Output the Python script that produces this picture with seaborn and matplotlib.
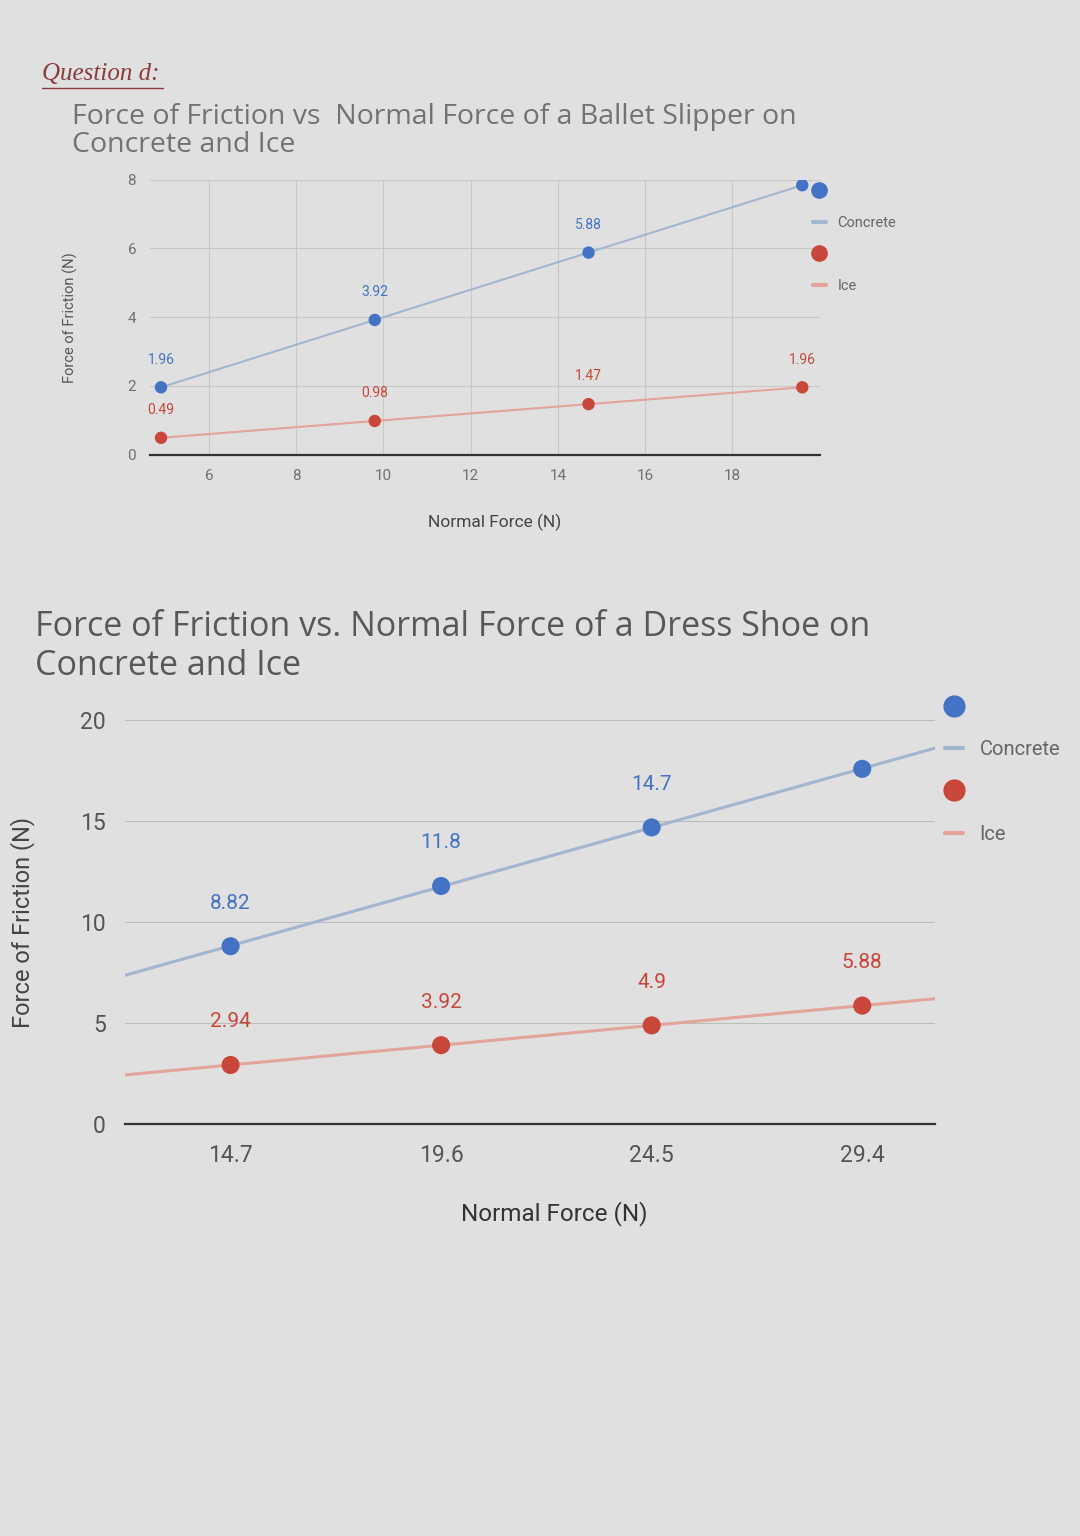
import numpy as np
import pandas as pd
import seaborn as sns
import matplotlib.pyplot as plt
from matplotlib.lines import Line2D

# ballet slipper data
ballet_normal = [4.9, 9.8, 14.7, 19.6]
ballet_concrete = [1.96, 3.92, 5.88, 7.84]
ballet_ice = [0.49, 0.98, 1.47, 1.96]
ballet_concrete_labels = ["1.96", "3.92", "5.88", ""]
ballet_ice_labels = ["0.49", "0.98", "1.47", "1.96"]

# dress shoe data
dress_normal = [14.7, 19.6, 24.5, 29.4]
dress_concrete = [8.82, 11.8, 14.7, 17.6]
dress_ice = [2.94, 3.92, 4.9, 5.88]
dress_concrete_labels = ["8.82", "11.8", "14.7", ""]
dress_ice_labels = ["2.94", "3.92", "4.9", "5.88"]
dress_xticks = [14.7, 19.6, 24.5, 29.4]

BLUE = "#4473c5"
RED = "#c8473a"
BLUE_LINE = "#a3b5cf"
RED_LINE = "#e2a49b"
BG = "#e0e0e0"

sns.set_theme(style="white")
plt.rcParams['font.family'] = ['Roboto', 'DejaVu Sans']

fig = plt.figure(figsize=(10.8, 15.36), dpi=100, facecolor=BG)

fig.text(0.039, 0.952, "Question d:", fontsize=18, style="italic", family="Liberation Serif",
         color="#8a3b3b", va="center")
fig.add_artist(Line2D([0.039, 0.151], [0.9425, 0.9425], color="#8a3b3b", lw=1))

fig.text(0.067, 0.933, "Force of Friction vs  Normal Force of a Ballet Slipper on\nConcrete and Ice",
         fontsize=20.5, family="Open Sans", color="#727272", va="top", linespacing=1.0)
fig.text(0.032, 0.603, "Force of Friction vs. Normal Force of a Dress Shoe on\nConcrete and Ice",
         fontsize=24.5, family="Open Sans", color="#585858", va="top", linespacing=1.2)


def draw(ax, normal, concrete, ice, c_labels, i_labels, dot_size, label_fs, label_off, truncate, lw):
    df = pd.DataFrame({
        "Normal": normal * 2,
        "Friction": concrete + ice,
        "Surface": ["Concrete"] * len(normal) + ["Ice"] * len(normal),
    })
    sns.regplot(data=df[df.Surface == "Concrete"], x="Normal", y="Friction", ax=ax, scatter=False,
                ci=None, truncate=truncate, line_kws={"color": BLUE_LINE, "lw": lw})
    sns.regplot(data=df[df.Surface == "Ice"], x="Normal", y="Friction", ax=ax, scatter=False,
                ci=None, truncate=truncate, line_kws={"color": RED_LINE, "lw": lw})
    sns.scatterplot(data=df, x="Normal", y="Friction", hue="Surface", palette=[BLUE, RED],
                    s=dot_size, edgecolor="none", legend=False, ax=ax, zorder=5)
    for x, y, t in zip(normal, concrete, c_labels):
        ax.annotate(t, (x, y), xytext=(0, label_off), textcoords="offset points",
                    ha="center", va="center", fontsize=label_fs, color=BLUE)
    for x, y, t in zip(normal, ice, i_labels):
        ax.annotate(t, (x, y), xytext=(0, label_off), textcoords="offset points",
                    ha="center", va="center", fontsize=label_fs, color=RED)
    ax.set_facecolor(BG)
    for s in ["top", "right", "left"]:
        ax.spines[s].set_visible(False)
    ax.spines["bottom"].set_color("#333333")
    ax.spines["bottom"].set_linewidth(1.6)


# top chart: ballet slipper
ax1 = fig.add_axes([0.139, 0.704, 0.62, 0.179])
ax1.set_xlim(4.65, 20.0)
ax1.set_ylim(0, 8)
draw(ax1, ballet_normal, ballet_concrete, ballet_ice, ballet_concrete_labels, ballet_ice_labels,
     80, 10, 20, True, 1.5)
ax1.set_xlim(4.65, 20.0)
ax1.set_ylim(0, 8)
ax1.set_xticks([6, 8, 10, 12, 14, 16, 18])
ax1.set_yticks([0, 2, 4, 6, 8])
ax1.grid(True, color="#c8c8c8", lw=0.8)
ax1.tick_params(axis="both", length=0, labelsize=11, labelcolor="#707070", pad=10)
ax1.set_xlabel("Normal Force (N)", fontsize=12.5, color="#444444")
ax1.set_ylabel("Force of Friction (N)", fontsize=10.5, color="#555555")
ax1.xaxis.set_label_coords(0.515, -0.215)
ax1.yaxis.set_label_coords(-0.108, 0.5)

# bottom chart: dress shoe
ax2 = fig.add_axes([0.116, 0.268, 0.75, 0.263])
ax2.set_xlim(12.25, 31.1)
ax2.set_ylim(0, 20)
draw(ax2, dress_normal, dress_concrete, dress_ice, dress_concrete_labels, dress_ice_labels,
     170, 15, 31, False, 2.2)
ax2.set_xlim(12.25, 31.1)
ax2.set_ylim(0, 20)
ax2.set_xticks(dress_xticks)
ax2.set_xticklabels([str(v) for v in dress_xticks])
ax2.set_yticks([0, 5, 10, 15, 20])
ax2.grid(True, axis="y", color="#bdbdbd", lw=0.8)
ax2.tick_params(axis="both", length=0, labelsize=16.5, labelcolor="#555555", pad=14)
ax2.set_xlabel("Normal Force (N)", fontsize=17.5, color="#333333")
ax2.set_ylabel("Force of Friction (N)", fontsize=17, color="#444444")
ax2.xaxis.set_label_coords(0.53, -0.19)
ax2.yaxis.set_label_coords(-0.112, 0.5)


def legend(ax, anchor, fs, ms, spacing):
    handles = [
        Line2D([], [], ls="none", marker="o", color=BLUE, markersize=ms),
        Line2D([], [], color=BLUE_LINE, lw=3),
        Line2D([], [], ls="none", marker="o", color=RED, markersize=ms),
        Line2D([], [], color=RED_LINE, lw=3),
    ]
    leg = ax.legend(handles, ["", "Concrete", "", "Ice"], loc="upper left", bbox_to_anchor=anchor,
                    frameon=False, fontsize=fs, handlelength=0.9, handletextpad=0.8,
                    labelspacing=spacing)
    for t in leg.get_texts():
        t.set_color("#666666")


legend(ax1, (0.97, 1.03), 10.5, 11, 1.2)
legend(ax2, (0.99, 1.1), 14.5, 15, 1.15)

plt.savefig("out.png", dpi=100, facecolor=BG)
